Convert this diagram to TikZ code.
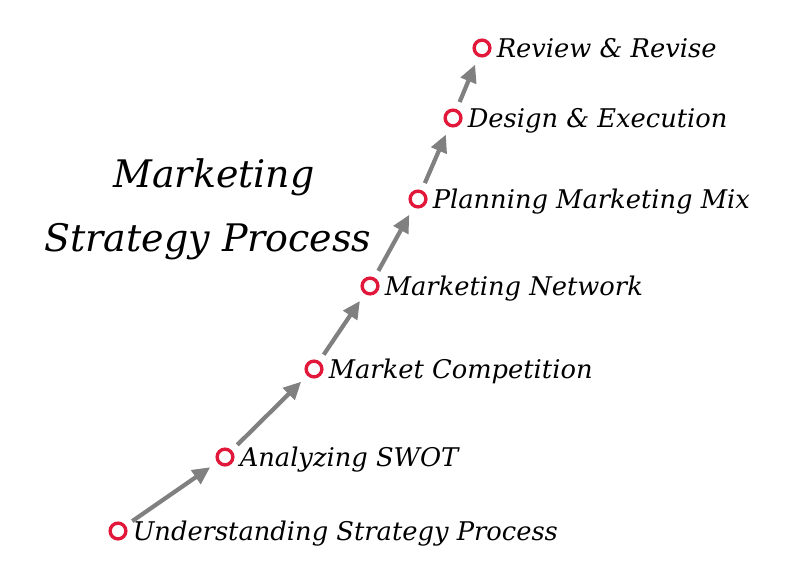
\documentclass[tikz,border=0pt]{standalone}
\usepackage{fontspec}
\setmainfont{DejaVu Serif}
\usetikzlibrary{positioning,arrows.meta}
\definecolor{ringred}{RGB}{226,24,58}
\definecolor{arrgray}{RGB}{128,128,128}
\tikzset{
	dot/.style={circle,draw=ringred,line width=2.4pt,minimum size=11.2pt,inner sep=0pt},
	arr/.style={draw=arrgray,line width=3pt,-{Triangle[length=12.5pt,width=11.5pt]},shorten <=5.5pt,shorten >=6pt},
	lbl/.style={inner sep=0pt,font=\fontsize{18.3}{22}\selectfont\itshape},
	ttl/.style={inner sep=0pt,font=\fontsize{27}{32}\selectfont\itshape}
}
\begin{document}
\begin{tikzpicture}[x=0.025cm,y=-0.025cm]
		\useasboundingbox (0,0) rectangle (800,585);
		\node[ttl] (ttl1) at(214,187)[anchor=base]{Marketing};
		\node[ttl] (ttl2) at(208,251)[anchor=base]{Strategy Process};
		\foreach \x/\y/\n in{118/531/1,225/457/2,314/369/3,370/286/4,418/199/5,453/118/6,482/48/7}{
			\node[dot] (c\n) at(\x,\y){};
		}
		\foreach \a/\b in{1/2,2/3,3/4,4/5,5/6,6/7}{
			\draw[arr] (c\a)--(c\b);
		}
		\foreach \n/\t in{1/Understanding Strategy Process,2/Analyzing SWOT,3/Market Competition,4/Marketing Network,5/Planning Marketing Mix,6/Design \& Execution,7/Review \& Revise}{
			\node[lbl,base right=3.5pt of c\n,yshift=-6.4pt] (t\n){\t};
		}
	\end{tikzpicture}
\end{document}
